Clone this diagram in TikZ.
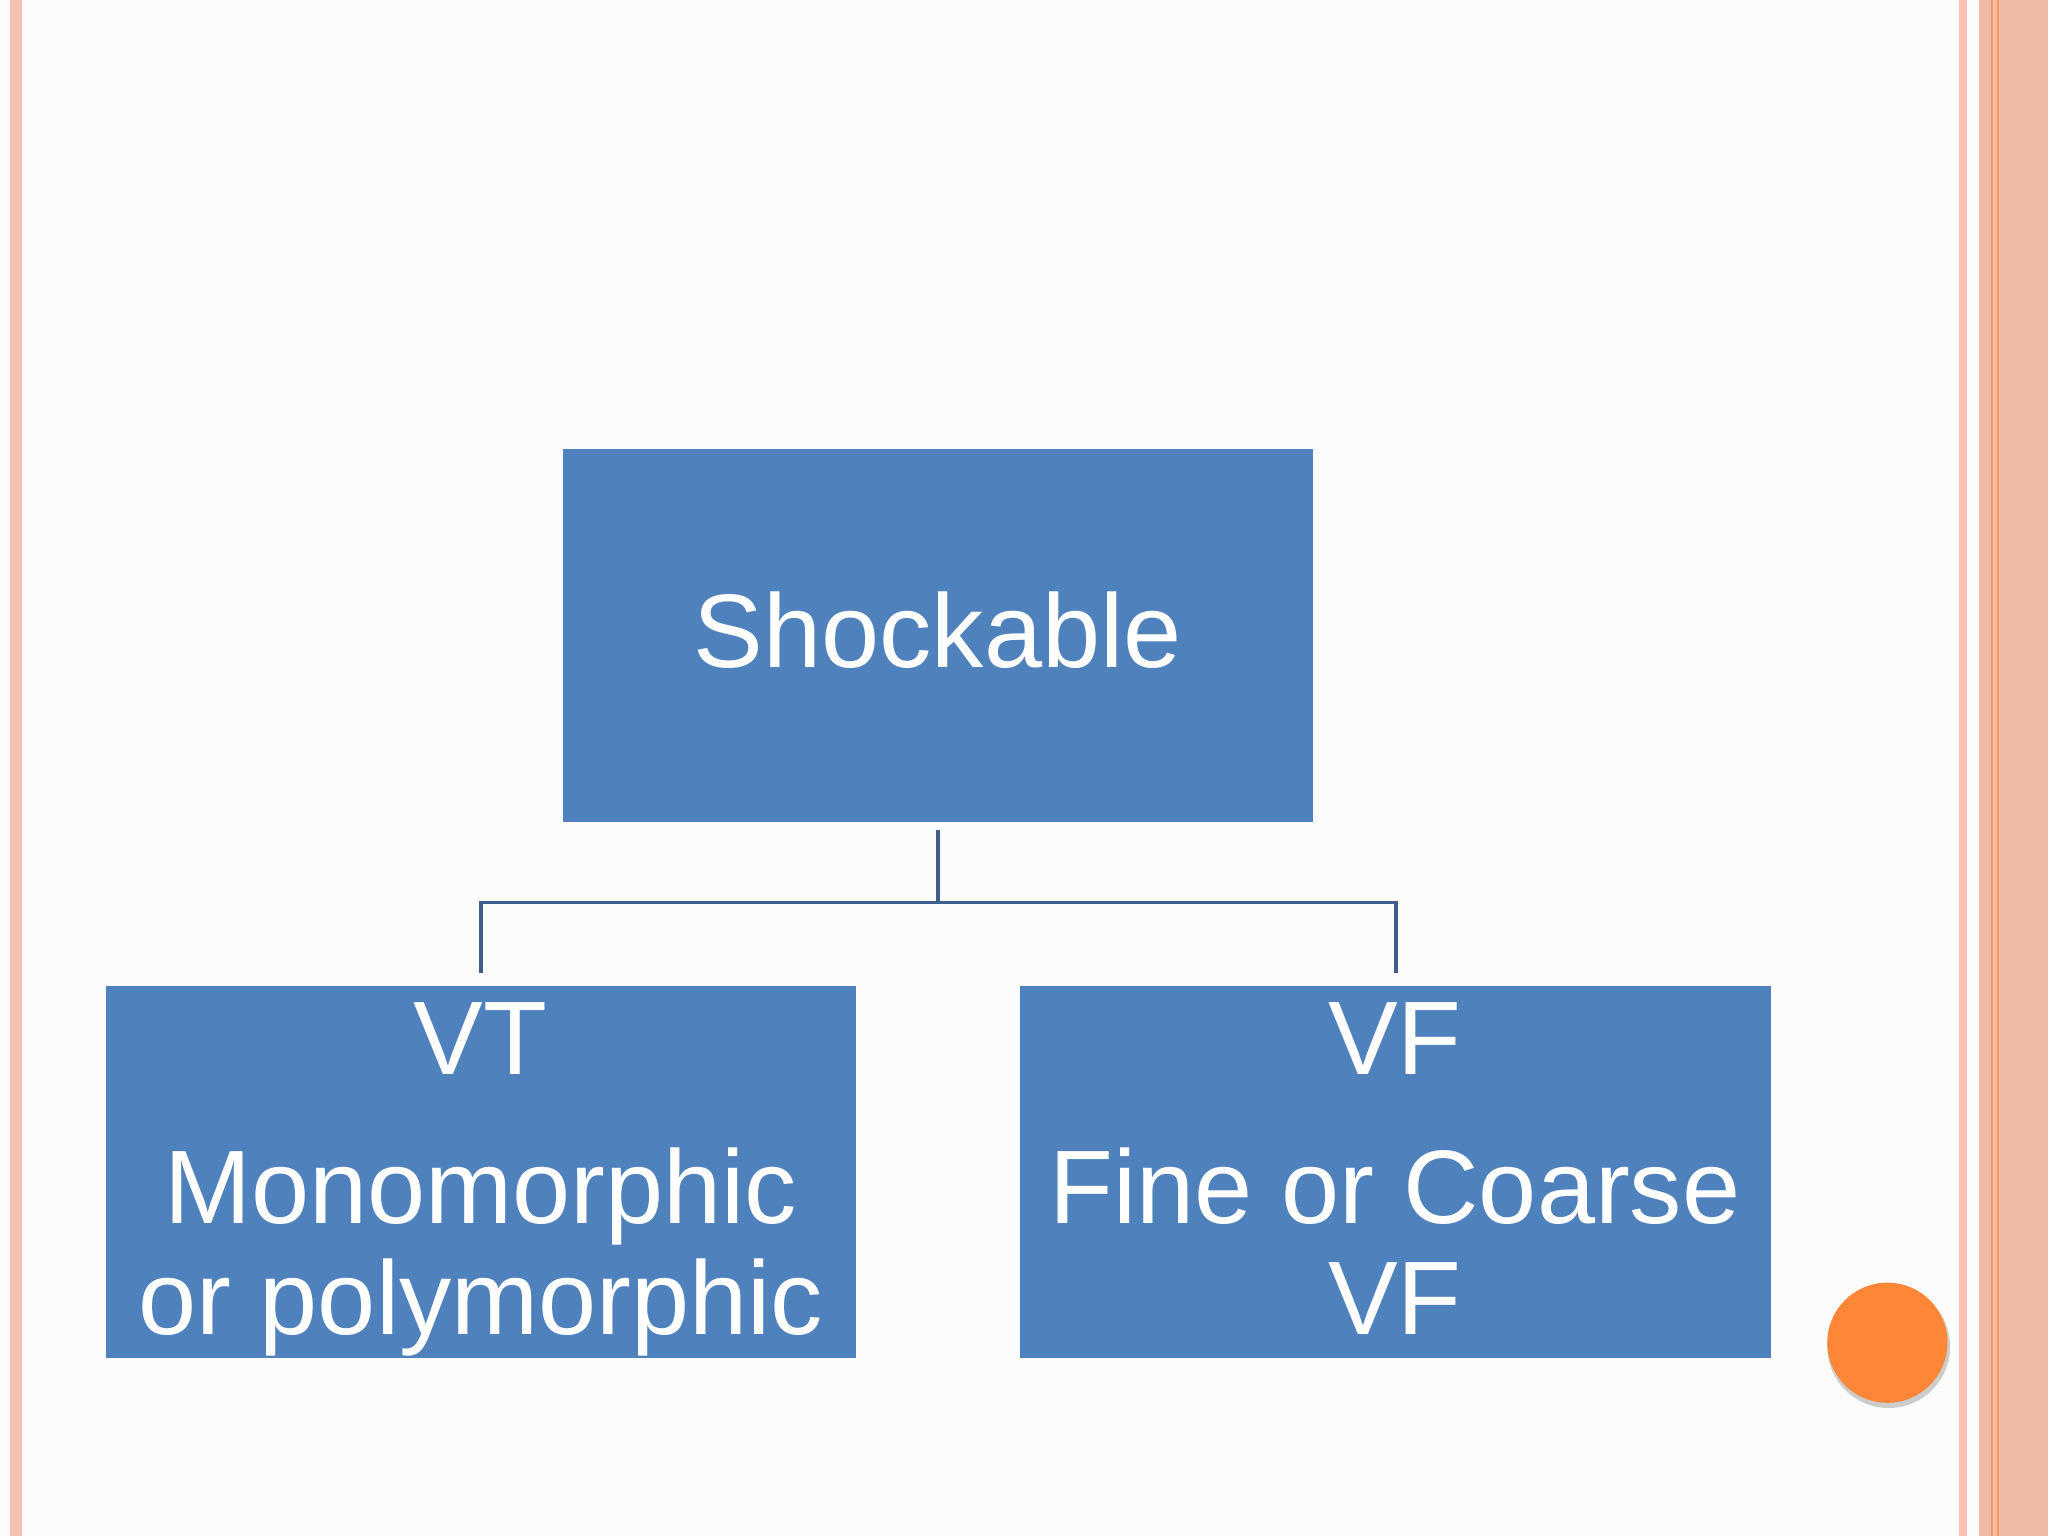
\documentclass[tikz,border=0pt]{standalone}
\usepackage{fontspec}
\setmainfont{Liberation Sans}
\definecolor{boxblue}{HTML}{4F81BD}
\definecolor{linkblue}{HTML}{3E5F8E}
\definecolor{pinkb}{HTML}{F6C1B2}
\definecolor{salmon}{HTML}{F0BBA4}
\definecolor{orng}{HTML}{FD8737}
\begin{document}
\begin{tikzpicture}[x=0.5pt,y=-0.5pt,
  bx/.style={fill=boxblue,draw=none},
  lbl/.style={text=white,anchor=base,inner sep=0pt,font=\fontsize{40}{43}\selectfont},
  link/.style={draw=linkblue,line width=1.5pt}]
\useasboundingbox (0,0) rectangle (1568,1176);
\fill[white!98!gray] (0,0) rectangle (1568,1176);
% decorations
\fill[pinkb] (8,0) rectangle (17,1176);
\fill[pinkb] (1500,0) rectangle (1506,1176);
\fill[salmon] (1515,0) rectangle (1568,1176);
\draw[orng!70!pink,line width=0.8pt] (1525,0) -- (1525,1176);
\draw[orng!70!pink,line width=0.8pt] (1530,0) -- (1530,1176);
\fill[gray!40] (1446,1031) circle (47);
\fill[orng] (1445,1028) circle (46);
% boxes
\node[bx,minimum width=287pt,minimum height=142.5pt,inner sep=0pt] (top) at (718,486.5) {};
\node[bx,minimum width=287pt,minimum height=142.5pt,inner sep=0pt] (left) at (368,897.5) {};
\node[bx,minimum width=287.5pt,minimum height=142.5pt,inner sep=0pt] (right) at (1068.5,897.5) {};
\node[lbl] (t1) at (718,511) {Shockable};
\node[lbl] (l1) at (368,823) {VT};
\node[lbl] (l2) at (368,937) {Monomorphic};
\node[lbl] (l3) at (368,1022) {or polymorphic};
\node[lbl] (r1) at (1068,823) {VF};
\node[lbl] (r2) at (1068,937) {Fine or Coarse};
\node[lbl] (r3) at (1068,1022) {VF};
% connectors
\coordinate (j) at (718,691);
\draw[link] ([yshift=-3]top.south) -- (j);
\draw[link] (j) -| ([yshift=5]left.north);
\draw[link] (j) -| ([yshift=5]right.north);
\end{tikzpicture}
\end{document}
